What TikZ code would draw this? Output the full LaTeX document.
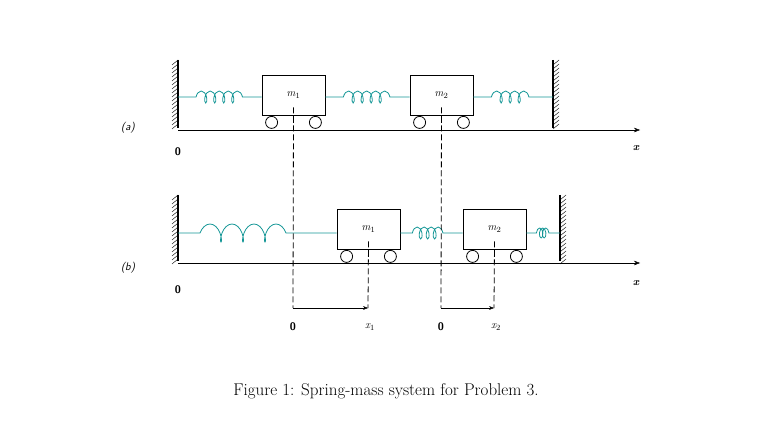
\documentclass[tikz,border=0pt]{standalone}
\usetikzlibrary{decorations.pathmorphing,arrows.meta}
\definecolor{spr}{RGB}{20,150,150}
\begin{document}
\begin{tikzpicture}[x=1pt,y=-1pt,
  mass/.style={draw,thick,minimum width=63pt,minimum height=40pt,inner sep=0pt,font=\itshape\fontsize{11}{11}\selectfont},
  spring/.style={spr,thick,decoration={coil,aspect=0.5,segment length=#1,amplitude=6pt,pre length=18pt,post length=18pt},decorate},
  dashln/.style={thick,dash pattern=on 6pt off 3pt},
  lab/.style={font=\sffamily\bfseries\fontsize{11}{11}\selectfont},
  axis/.style={thin,-{Stealth[length=6pt]}}]
\useasboundingbox (0,0) rectangle (770,446);
\newcommand{\wallL}[3]{\draw[very thick] (#1,#2) -- (#1,#3);
  \foreach \i in {0,4,...,64} \draw (#1,#2+\i) -- (#1-6,#2+\i+5);}
\newcommand{\wallR}[3]{\draw[very thick] (#1,#2) -- (#1,#3);
  \foreach \i in {0,4,...,64} \draw (#1,#2+\i+5) -- (#1+6,#2+\i);}
% (a)
\wallL{178}{60}{128}
\wallR{553}{60}{128}
\coordinate (wa) at (178,97); \coordinate (wb) at (553,97);
\draw[axis] (178,130) -- (640,130);
\node[mass] (m1a) at (293.5,95) {m$_1$};
\node[mass] (m2a) at (441.5,95) {m$_2$};
\foreach \m in {m1a,m2a}{
  \draw[thick] ([xshift=10pt,yshift=-7pt]\m.south west) circle (6pt);
  \draw[thick] ([xshift=-10pt,yshift=-7pt]\m.south east) circle (6pt);
  \draw[thick] (\m.south) -- ++(0,8);}
\draw[spring=9pt] (wa) -- (m1a.west |- wa);
\draw[spring=9pt] (m1a.east |- wa) -- (m2a.west |- wa);
\draw[spring=9pt] (m2a.east |- wa) -- (wb);
\node[font=\sffamily\itshape\fontsize{11}{11}\selectfont] (la) at (128,128) {(a)};
\node[lab] (oa) at (178,152) {0};
\node[font=\itshape\bfseries\fontsize{11}{11}\selectfont] (xa) at (636,148) {x};
% (b)
\wallL{178}{195}{261}
\wallR{560}{195}{261}
\coordinate (wc) at (178,233); \coordinate (wd) at (560,233);
\draw[axis] (178,263) -- (640,263);
\node[mass] (m1b) at (368.5,229) {m$_1$};
\node[mass] (m2b) at (494.5,229) {m$_2$};
\foreach \m in {m1b,m2b}{
  \draw[thick] ([xshift=10pt,yshift=-7pt]\m.south west) circle (6pt);
  \draw[thick] ([xshift=-10pt,yshift=-7pt]\m.south east) circle (6pt);
  \draw[thick] (\m.south) -- ++(0,8);}
\draw[spr,thick,decoration={coil,aspect=0.5,segment length=22pt,amplitude=9pt,pre length=22pt,post length=44pt},decorate] (wc) -- (m1b.west |- wc);
\draw[spr,thick,decoration={coil,aspect=0.5,segment length=7pt,amplitude=6pt,pre length=12pt,post length=14pt},decorate] (m1b.east |- wc) -- (m2b.west |- wc);
\draw[spr,thick,decoration={coil,aspect=0.5,segment length=3pt,amplitude=5pt,pre length=10pt,post length=10pt},decorate] (m2b.east |- wc) -- (wd);
\node[font=\sffamily\itshape\fontsize{11}{11}\selectfont] (lb) at (128,268) {(b)};
\node[lab] (ob) at (178,290) {0};
\node[font=\itshape\bfseries\fontsize{11}{11}\selectfont] (xb) at (636,283) {x};
% dashed lines
\coordinate (d1) at (293,308); \coordinate (d2) at (441,308);
\draw[dashln] ([yshift=8pt]m1a.south) -- (d1);
\draw[dashln] ([yshift=8pt]m2a.south) -- (d2);
\coordinate (e1) at (368,308); \coordinate (e2) at (494,308);
\draw[dashln] ([yshift=8pt]m1b.south) -- (e1);
\draw[dashln] ([yshift=8pt]m2b.south) -- (e2);
\draw[thin,-{Stealth[length=5pt]}] (d1) -- (e1);
\draw[thin,-{Stealth[length=5pt]}] (d2) -- (e2);
\node[lab] (o1) at (293,327) {0};
\node[font=\itshape\fontsize{11}{11}\selectfont] (x1) at (370,327) {x$_1$};
\node[lab] (o2) at (441,327) {0};
\node[font=\itshape\fontsize{11}{11}\selectfont] (x2) at (496,327) {x$_2$};
\node[font=\fontsize{17}{17}\selectfont] (cap) at (386,391) {Figure 1: Spring-mass system for Problem 3.};
\end{tikzpicture}
\end{document}
